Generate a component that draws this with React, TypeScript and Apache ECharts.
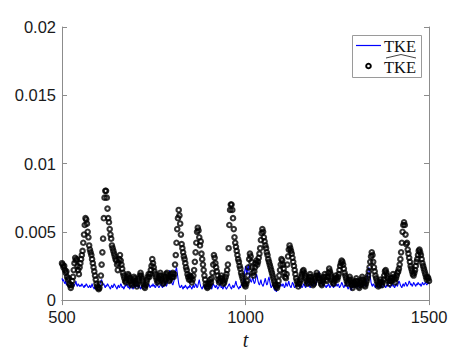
import React, { useEffect, useRef } from "react";
import * as echarts from "echarts";

// time grid of the samples
const T_START = 500;
const T_STEP = 2;

// Estimated TKE-hat (circles), in units of 1e-4, t = 500, 502, ..., 1500
const tkeHat: number[] = [
  27, 26, 24, 25, 22, 20, 21, 17, 15, 16, 12, 11, 9, 11, 14, 17, 22, 27, 31, 29, 30, 25, 22, 19, 24,
  27, 30, 33, 36, 42, 48, 55, 60, 59, 56, 50, 46, 40, 37, 35, 33, 30, 27, 24, 21, 18, 15, 12, 10, 9,
  8, 9, 12, 18, 26, 35, 45, 60, 75, 80, 80, 75, 67, 60, 57, 52, 48, 45, 40, 38, 36, 34, 32, 30, 29,
  26, 22, 27, 30, 33, 29, 26, 23, 20, 18, 16, 14, 13, 15, 17, 19, 18, 16, 14, 12, 11, 13, 15, 17, 16,
  14, 12, 10, 12, 14, 16, 18, 20, 18, 16, 14, 12, 10, 9, 11, 13, 15, 17, 19, 17, 19, 22, 25, 30, 27,
  24, 21, 19, 17, 15, 13, 14, 16, 18, 20, 18, 16, 14, 12, 13, 15, 17, 19, 20, 18, 16, 14, 15, 17, 19,
  17, 20, 17, 19, 26, 33, 42, 52, 60, 66, 62, 56, 48, 41, 38, 35, 32, 30, 27, 24, 22, 19, 17, 15, 18,
  15, 17, 13, 15, 18, 22, 28, 35, 42, 50, 53, 51, 46, 40, 43, 34, 30, 26, 22, 18, 15, 12, 10, 9, 12,
  10, 12, 15, 13, 16, 20, 26, 33, 31, 27, 24, 21, 18, 15, 13, 14, 16, 18, 16, 14, 12, 13, 15, 17, 19,
  22, 26, 38, 55, 66, 70, 70, 66, 60, 52, 46, 42, 39, 36, 33, 30, 28, 25, 23, 20, 18, 16, 14, 12, 11,
  10, 12, 14, 18, 24, 30, 34, 32, 28, 24, 20, 18, 21, 24, 27, 29, 26, 28, 31, 34, 38, 44, 49, 52, 50,
  46, 43, 40, 38, 35, 33, 30, 28, 26, 24, 22, 20, 18, 16, 14, 12, 11, 10, 9, 11, 14, 18, 22, 26, 30,
  29, 26, 23, 20, 17, 16, 19, 26, 32, 37, 40, 38, 36, 34, 31, 28, 25, 22, 19, 16, 14, 12, 10, 12, 13,
  15, 17, 19, 21, 22, 20, 18, 16, 14, 12, 13, 15, 17, 19, 17, 15, 13, 11, 12, 14, 16, 18, 20, 18, 16,
  18, 16, 14, 12, 11, 13, 15, 17, 19, 17, 15, 14, 17, 20, 23, 21, 19, 17, 15, 13, 12, 14, 16, 18, 16,
  15, 17, 19, 22, 25, 27, 29, 28, 26, 23, 20, 18, 16, 14, 12, 13, 15, 17, 15, 13, 11, 9, 11, 13, 12,
  14, 16, 14, 12, 10, 9, 11, 13, 15, 17, 15, 13, 11, 10, 12, 14, 16, 18, 21, 24, 28, 32, 35, 33, 28,
  24, 21, 18, 16, 14, 12, 10, 11, 13, 15, 13, 11, 13, 15, 18, 21, 22, 20, 18, 16, 14, 12, 14, 16, 14,
  16, 19, 17, 15, 13, 16, 18, 20, 21, 23, 26, 30, 35, 42, 50, 55, 57, 55, 48, 41, 42, 37, 34, 31, 28,
  25, 23, 21, 19, 18, 20, 22, 25, 28, 30, 33, 36, 37, 35, 33, 30, 27, 25, 23, 21, 19, 17, 15, 17, 16,
  14,
];

// Resolved TKE (blue line), in units of 1e-4, same time grid
const tke: number[] = [
  16, 14, 15, 13, 12, 14, 11, 12, 10, 11, 9, 10, 12, 11, 13, 12, 10, 11, 12, 14, 11, 10, 12, 11, 10,
  11, 10, 12, 11, 10, 9, 11, 10, 12, 11, 10, 9, 10, 11, 9, 10, 12, 10, 9, 8, 10, 9, 8, 9, 10,
  9, 10, 12, 14, 15, 13, 11, 12, 10, 9, 11, 10, 12, 11, 10, 9, 8, 10, 11, 9, 10, 12, 11, 10, 9,
  8, 10, 11, 9, 10, 12, 11, 9, 10, 8, 9, 11, 10, 12, 11, 9, 10, 8, 9, 10, 11, 9, 8, 10, 11,
  9, 10, 12, 10, 9, 11, 10, 8, 9, 11, 10, 12, 10, 9, 11, 10, 9, 10, 12, 11, 9, 10, 11, 10, 12,
  10, 11, 9, 10, 12, 11, 10, 9, 10, 11, 12, 10, 9, 11, 10, 13, 12, 10, 11, 14, 16, 20, 22, 18, 14,
  12, 11, 13, 15, 18, 22, 24, 20, 16, 12, 10, 9, 10, 11, 9, 8, 10, 9, 11, 10, 9, 8, 10, 9, 11,
  10, 9, 8, 10, 11, 9, 10, 12, 11, 9, 10, 13, 15, 12, 10, 9, 8, 10, 11, 9, 10, 8, 9, 10, 11,
  9, 10, 11, 9, 8, 10, 12, 11, 10, 9, 11, 10, 8, 9, 10, 12, 11, 9, 10, 8, 9, 11, 10, 9, 8,
  9, 10, 11, 12, 10, 9, 8, 10, 11, 9, 10, 12, 14, 11, 10, 9, 8, 10, 9, 11, 12, 10, 13, 17, 21,
  25, 22, 18, 24, 26, 20, 16, 14, 13, 15, 17, 14, 12, 13, 16, 19, 17, 14, 12, 11, 13, 15, 12, 11, 10,
  12, 14, 16, 13, 11, 12, 15, 17, 14, 11, 9, 10, 12, 10, 8, 7, 9, 6, 8, 10, 9, 11, 10, 12, 11,
  10, 12, 11, 9, 10, 13, 11, 10, 12, 14, 11, 10, 9, 11, 13, 12, 10, 9, 11, 10, 12, 13, 11, 10, 9,
  10, 11, 9, 10, 12, 11, 10, 9, 11, 13, 12, 10, 11, 9, 10, 12, 11, 10, 13, 15, 12, 11, 14, 17, 19,
  21, 18, 15, 13, 12, 11, 10, 12, 11, 10, 9, 11, 10, 12, 11, 9, 10, 11, 12, 10, 9, 11, 10, 12, 11,
  10, 12, 11, 9, 10, 11, 13, 12, 10, 9, 11, 10, 12, 11, 9, 8, 10, 11, 9, 7, 9, 10, 12, 11, 10,
  9, 11, 10, 12, 11, 9, 10, 12, 13, 11, 10, 12, 11, 10, 12, 14, 17, 21, 24, 22, 17, 13, 11, 10, 12,
  11, 10, 9, 11, 12, 10, 9, 11, 10, 12, 11, 9, 10, 12, 11, 10, 9, 11, 10, 12, 11, 10, 9, 10, 11,
  12, 10, 11, 9, 10, 12, 11, 10, 12, 14, 13, 11, 10, 9, 11, 12, 10, 11, 13, 12, 10, 11, 12, 14, 13,
  11, 12, 10, 11, 13, 12, 11, 10, 12, 11, 13, 12, 11, 12, 10, 11, 13, 12, 11, 12, 13, 12, 11, 12, 13,
  12,
];

const VALUE_UNIT = 1e-4;
const X_MIN = 500;
const X_MAX = 1500;
const X_INTERVAL = 500;
const Y_MIN = 0;
const Y_MAX = 0.02;
const Y_INTERVAL = 0.005;
const X_NAME = "t";
const LEGEND_LABELS = ["TKE", "TKE"];

const AXIS_GRAY = "#8c8c8c";
const LABEL_COLOR = "#1a1a1a";

export default function App() {
  const ref = useRef<HTMLDivElement>(null);

  useEffect(() => {
    if (!ref.current) return;
    const chart = echarts.init(ref.current, null, { renderer: "svg" });

    const hatData = tkeHat.map((v, i) => [T_START + i * T_STEP, v * VALUE_UNIT]);
    const lineData = tke.map((v, i) => [T_START + i * T_STEP, v * VALUE_UNIT]);

    const fmtY = (v: number) => String(parseFloat(v.toFixed(4)));
    const fmtX = (v: number) => String(v);

    const tickStyle = { inside: true, length: 5, lineStyle: { color: AXIS_GRAY, width: 1 } };
    const lineStyleAxis = { show: true, lineStyle: { color: AXIS_GRAY, width: 1 } };

    chart.setOption({
      animation: false,
      backgroundColor: "#fff",
      grid: { left: 62, top: 27, width: 367, height: 279, containLabel: false },
      xAxis: [
        {
          type: "value",
          position: "bottom",
          min: X_MIN,
          max: X_MAX,
          interval: X_INTERVAL,
          axisLine: lineStyleAxis,
          axisTick: tickStyle,
          splitLine: { show: false },
          axisLabel: {
            margin: 8,
            color: LABEL_COLOR,
            fontFamily: "Liberation Sans, Arial, sans-serif",
            fontSize: 16.5,
            formatter: fmtX,
          },
          name: X_NAME,
          nameLocation: "middle",
          nameGap: 26,
          nameTextStyle: {
            fontFamily: "Liberation Serif, DejaVu Serif, serif",
            fontStyle: "italic",
            fontSize: 20,
            color: LABEL_COLOR,
          },
        },
        {
          type: "value",
          position: "top",
          min: X_MIN,
          max: X_MAX,
          interval: X_INTERVAL,
          axisLine: lineStyleAxis,
          axisTick: tickStyle,
          axisLabel: { show: false },
          splitLine: { show: false },
        },
      ],
      yAxis: [
        {
          type: "value",
          position: "left",
          min: Y_MIN,
          max: Y_MAX,
          interval: Y_INTERVAL,
          axisLine: lineStyleAxis,
          axisTick: tickStyle,
          splitLine: { show: false },
          axisLabel: {
            margin: 6,
            color: LABEL_COLOR,
            fontFamily: "Liberation Sans, Arial, sans-serif",
            fontSize: 16.5,
            formatter: fmtY,
          },
        },
        {
          type: "value",
          position: "right",
          min: Y_MIN,
          max: Y_MAX,
          interval: Y_INTERVAL,
          axisLine: lineStyleAxis,
          axisTick: tickStyle,
          axisLabel: { show: false },
          splitLine: { show: false },
        },
      ],
      series: [
        {
          name: "TKE",
          type: "line",
          data: lineData,
          showSymbol: false,
          symbol: "none",
          lineStyle: { color: "#0000ff", width: 1.1 },
          z: 2,
        },
        {
          name: "TKE estimate",
          type: "scatter",
          data: hatData,
          symbol: "circle",
          symbolSize: 4.5,
          itemStyle: { color: "rgba(0,0,0,0)", borderColor: "#000", borderWidth: 2.1 },
          z: 3,
        },
      ],
      graphic: [
        {
          type: "group",
          z: 100,
          children: [
            {
              type: "rect",
              shape: { x: 352.5, y: 35.5, width: 69, height: 42 },
              style: { fill: "#fff", stroke: "#9a9a9a", lineWidth: 1 },
            },
            {
              type: "line",
              shape: { x1: 356, y1: 45.5, x2: 381, y2: 45.5 },
              style: { stroke: "#0000ff", lineWidth: 1.2 },
            },
            {
              type: "text",
              x: 384,
              y: 46,
              style: {
                text: LEGEND_LABELS[0],
                fill: "#111",
                font: "16.5px 'Liberation Serif', 'DejaVu Serif', serif",
                verticalAlign: "middle",
                align: "left",
              },
            },
            {
              type: "circle",
              shape: { cx: 368.5, cy: 66, r: 2.3 },
              style: { fill: "none", stroke: "#000", lineWidth: 2 },
            },
            {
              type: "text",
              x: 384,
              y: 67,
              style: {
                text: LEGEND_LABELS[1],
                fill: "#111",
                font: "16.5px 'Liberation Serif', 'DejaVu Serif', serif",
                verticalAlign: "middle",
                align: "left",
              },
            },
            {
              type: "polyline",
              shape: { points: [[386, 58], [401, 54.5], [416, 58]] },
              style: { stroke: "#111", lineWidth: 0.8, fill: "none" },
            },
          ],
        },
      ],
    });

    return () => chart.dispose();
  }, []);

  return (
    <div
      ref={ref}
      style={{ position: "fixed", left: 0, top: 0, width: 474, height: 355, background: "#fff" }}
    />
  );
}
